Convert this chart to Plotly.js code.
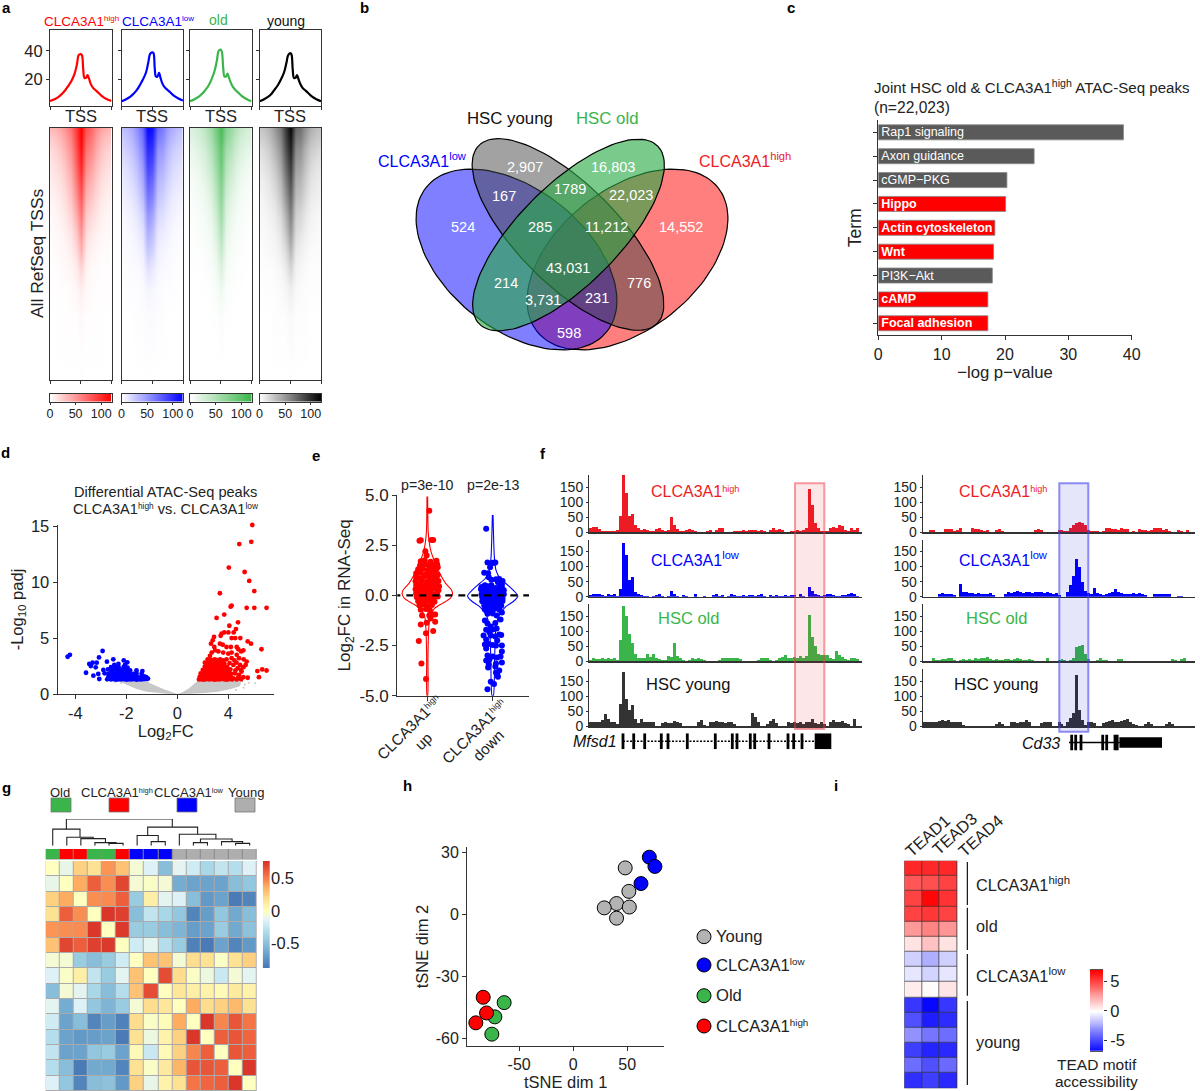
<!DOCTYPE html>
<html><head><meta charset="utf-8">
<script src="https://cdn.plot.ly/plotly-3.0.1.min.js"></script>
<style>html,body{margin:0;padding:0;background:#fff}</style></head>
<body><div id="chart" style="width:1200px;height:1091px"></div>
<script>
/* ---------- panel a ---------- */
const profileX=[-1,-.85,-.7,-.6,-.5,-.4,-.3,-.2,-.12,-.07,0,.04,.08,.12,.17,.22,.27,.32,.4,.5,.6,.7,.85,1];
const profileHigh=[4.7,6,8,10,12.5,15.5,19,24,31,37,37.8,37,27,21,21,23,20.5,17,14,12,10,8,6,4.7];
const profileLow=[4.5,6,8,10,12.5,16,20,25,33,38,39,38.5,28,22,22,24.5,21,17.5,14.5,12.5,10.5,8.5,6.5,5];
const profileOld=[4.5,6,8,10,12.5,15.5,20,26,34,40,41,39,28,22,22,24,21,18,14.5,12,10,8,6,4.5];
const profileYoung=[4.5,6,8,10,13,16,20,25,32,37,38.5,37.5,27,21,21,23,20,17,14,12,10,8,6,4.5];
const heatCols=[-1,-.833,-.667,-.5,-.333,-.167,0,.167,.333,.5,.667,.833,1];
const heatRows=[0,.04,.09,.15,.21,.28,.35,.42,.49,.56,.64,.75,1];
const heatHigh=[
[32,36,42,52,68,92,120,82,72,56,44,38,32],[24,28,34,44,60,88,118,74,66,48,36,30,26],[16,20,26,36,52,80,112,64,56,40,28,22,18],
[12,15,20,28,44,72,104,54,46,32,22,17,13],[8,11,15,22,36,62,92,44,36,25,16,12,9],[5,7,10,16,28,50,78,34,27,18,11,8,6],
[3,4,7,11,20,38,64,24,18,12,7,5,4],[2,3,4,7,13,26,50,16,11,7,4,3,2],[1,2,3,4,8,16,36,10,6,4,2,2,1],
[1,1,2,3,5,9,20,6,3,2,1,1,1],[1,1,1,1,2,4,8,3,2,1,1,1,1],[0,0,1,1,1,1,3,1,1,1,1,0,0],[0,0,0,0,0,0,0,0,0,0,0,0,0]];
const heatLow=[
[30,34,40,52,72,118,112,70,62,46,38,32,28],[24,28,34,46,66,110,104,62,56,40,32,26,24],[18,22,28,38,58,100,94,50,46,32,24,20,18],
[13,16,22,30,48,90,82,42,38,26,18,15,13],[9,12,16,24,40,78,70,34,30,20,14,11,9],[6,8,11,17,30,64,56,26,22,14,9,7,6],
[3,5,7,11,20,50,42,18,15,9,6,4,3],[2,3,4,7,13,38,30,11,9,6,3,2,2],[1,2,3,4,8,26,20,7,5,3,2,1,1],
[1,1,2,2,4,14,10,4,3,2,1,1,1],[0,1,1,1,2,5,4,2,1,1,1,0,0],[0,0,0,1,1,2,2,1,1,0,0,0,0],[0,0,0,0,0,0,0,0,0,0,0,0,0]];
const heatOld=[
[22,26,32,42,60,84,110,74,62,46,34,28,24],[18,22,27,36,54,78,104,66,54,38,28,23,19],[12,15,20,28,44,68,94,54,44,30,20,16,13],
[8,11,15,22,36,60,88,44,34,22,14,10,8],[5,7,10,16,28,50,78,36,26,16,9,7,5],[3,5,7,11,20,40,68,26,18,11,6,4,3],
[2,3,5,7,14,30,58,20,12,7,4,3,2],[1,2,3,5,9,22,46,14,8,5,3,2,1],[1,1,2,3,6,14,34,9,5,3,2,1,1],
[0,1,1,2,4,9,22,6,3,2,1,1,0],[0,0,1,1,2,4,10,3,2,1,1,0,0],[0,0,0,0,1,1,3,1,1,0,0,0,0],[0,0,0,0,0,0,0,0,0,0,0,0,0]];
const heatYoung=[
[26,30,36,48,64,92,118,72,66,50,38,32,28],[21,25,31,42,58,88,112,64,60,44,32,27,23],[14,18,24,34,50,80,104,54,50,34,24,20,16],
[10,13,18,26,42,70,94,46,42,28,18,14,11],[7,9,13,20,34,60,84,38,34,22,13,10,8],[4,6,9,14,26,48,72,30,26,16,9,7,5],
[3,4,6,9,18,36,60,22,18,11,6,4,3],[2,3,4,6,12,26,48,16,12,7,4,3,2],[1,2,3,4,8,16,34,10,7,4,2,2,1],
[1,1,1,2,4,9,20,6,4,2,1,1,1],[0,1,1,1,2,4,8,3,2,1,1,1,0],[0,0,0,1,1,1,3,1,1,1,0,0,0],[0,0,0,0,0,0,0,0,0,0,0,0,0]];
const scaleSteps=[0,10,20,30,40,50,60,70,80,90,100,110,120];
/* ---------- panel b ---------- */
const vennRegions=["2,907","16,803","167","1789","22,023","524","285","11,212","14,552","43,031","214","776","3,731","231","598"];
/* ---------- panel c ---------- */
const terms=["Rap1 signaling","Axon guidance","cGMP−PKG","Hippo","Actin cytoskeleton","Wnt","PI3K−Akt","cAMP","Focal adhesion"];
const termP=[38.7,24.6,20.3,20.1,18.4,18.2,18.0,17.3,17.3];
const termHit=[0,0,0,1,1,1,0,1,1];
/* ---------- panel d ---------- */
const grayL=[[0,0],[-.25,.18],[-.5,.4],[-.8,.7],[-1.1,1.0],[-1.2,1.28],[-2.35,1.28],[-2.25,1.1],[-1.95,.8],[-1.6,.45],[-1.2,.2],[-.8,.08],[-.4,.02]];
const grayR=[[0,0],[.2,.15],[.45,.5],[.7,1.0],[.85,1.28],[2.35,1.28],[2.5,1.0],[2.45,.7],[2.1,.45],[1.6,.2],[1.1,.08],[.5,.02]];
const grayDots=[[-2.45,1.05],[-2.2,.95],[-1.9,1.15],[-1.4,.75],[-1.1,.5],[-.75,.3],[-.55,.15],[.3,.1],[.55,.22],[1.0,.3],[1.5,.6],[2.0,.9],[2.55,1.15],[2.65,.85],[2.8,1.0],[2.6,.55],[2.3,.35],[3.05,.95]];
const redPts=[[2.94,15.1],[2.9,13.6],[2.43,13.4],[2.02,11.3],[2.64,10.9],[2.82,10.1],[3.02,9.2],[1.67,9.0],[3.5,7.7],[3.02,7.7],[2.72,7.7],[2.13,7.9],[2.09,7.8],[1.84,7.1],[1.54,6.8],[2.38,6.4],[2.04,6.1],[2.3,5.8],
[2.21,5.5],[1.44,5.1],[1.39,4.8],[1.32,4.5],[1.74,5.4],[1.7,5.2],[1.84,5.5],[2.0,5.5],[2.13,5],[2.27,5],[2.47,5],[1.67,4.5],[1.78,4.4],[1.93,4.2],[2.1,4.2],[2.33,4.2],[2.39,4],[2.59,3.9],[2.76,4.7],[2.89,4.5],[1.45,4.2],[1.48,3.9],[1.35,3.7],[1.28,3.4],[1.19,3.1],[1.08,2.8],[1.61,3.8],[1.8,3.7],[2.0,3.6],[2.13,3.7],[2.33,3.5],[2.5,3.8],[2.42,3.2],[2.72,2.9],[2.68,2.6],[2.59,2.4],[2.46,2.6],[2.37,2.3],[2.52,2],[2.42,1.7],[2.26,1.85],[2.2,2.6],[2.24,3],[2.13,3.2],[1.93,3.1],[2.59,1.5],[2.76,1.45],[2.39,1.5],[2.2,1.4],[3.3,4.0],[3.14,2.05],[3.33,2.2],[3.5,2.1],[3.2,1.5],
[.85,1.3],[.95,1.32],[1.05,1.28],[1.15,1.33],[1.25,1.3],[1.35,1.34],[1.45,1.28],[1.55,1.32],[1.65,1.3],[1.75,1.35],[1.85,1.3],[1.95,1.28],[2.05,1.34],[2.15,1.3],[2.33,1.3],[2.5,1.32],
[.88,1.55],[1.0,1.6],[1.12,1.52],[1.22,1.58],[1.33,1.62],[1.44,1.5],[1.52,1.6],[1.63,1.56],[1.74,1.52],[1.83,1.62],[1.94,1.55],[2.04,1.6],
[.92,1.85],[1.05,1.8],[1.16,1.9],[1.27,1.84],[1.38,1.8],[1.47,1.92],[1.58,1.86],[1.69,1.82],[1.78,1.92],[1.9,1.84],[2.0,1.9],[2.12,1.8],
[1.0,2.15],[1.1,2.2],[1.22,2.1],[1.33,2.2],[1.42,2.12],[1.55,2.22],[1.64,2.14],[1.76,2.1],[1.85,2.22],[1.98,2.15],[2.08,2.2],
[1.08,2.45],[1.2,2.5],[1.3,2.42],[1.41,2.52],[1.52,2.44],[1.62,2.52],[1.72,2.42],[1.83,2.5],[1.95,2.45],
[1.18,2.75],[1.3,2.8],[1.4,2.72],[1.5,2.8],[1.61,2.72],[1.71,2.82],[1.84,2.74],[1.33,3.05],[1.47,3.1],[1.58,3.02],[1.68,3.1],[1.8,3.0],[2.05,2.75],[2.32,2.8],[2.6,3.1],[2.5,2.15],[2.28,2.1],
[.98,1.42],[1.1,1.42],[1.28,1.44],[1.4,1.42],[1.58,1.44],[1.7,1.42],[1.9,1.44],[2.1,1.45],[.98,1.72],[1.1,1.7],[1.33,1.72],[1.5,1.72],[1.68,1.7],[1.88,1.72],[1.1,2.0],[1.25,1.98],[1.42,2.0],[1.6,2.0],[1.82,2.0],[2.02,2.02],[1.16,2.3],[1.36,2.32],[1.5,2.32],[1.7,2.3],[1.9,2.3],[1.25,2.62],[1.45,2.62],[1.66,2.62],[1.8,2.62]];
const bluePts=[[-4.3,3.33],[-4.21,3.5],[-2.93,3.84],[-3.07,3.27],[-3.45,2.68],[-3.32,2.8],[-3.16,2.8],[-3.39,2.5],[-3.2,2.38],[-3.58,1.9],[-3.29,1.64],[-3.1,1.79],[-3.06,1.34],[-2.75,1.31],[-2.76,2.89],[-2.51,3.1],[-2.1,3],[-1.96,2.83],[-2.47,2.6],[-2.31,2.68],[-2.05,2.6],[-1.37,2.05],[-1.6,2.1],
[-2.6,1.3],[-2.5,1.33],[-2.4,1.28],[-2.3,1.32],[-2.2,1.3],[-2.1,1.34],[-2,1.28],[-1.9,1.32],[-1.8,1.3],[-1.7,1.33],[-1.6,1.28],[-1.5,1.32],[-1.4,1.3],[-1.3,1.33],[-1.2,1.35],[-1.15,1.38],
[-2.7,1.55],[-2.58,1.6],[-2.46,1.52],[-2.35,1.58],[-2.22,1.6],[-2.12,1.52],[-2,1.58],[-1.9,1.6],[-1.78,1.52],[-1.65,1.56],[-1.55,1.5],[-1.4,1.55],[-1.3,1.58],[-1.22,1.5],
[-2.85,1.85],[-2.7,1.8],[-2.6,1.9],[-2.48,1.84],[-2.36,1.8],[-2.25,1.9],[-2.12,1.84],[-2,1.82],[-1.88,1.9],[-1.72,1.8],[-1.6,1.84],[-1.4,1.8],
[-2.9,2.15],[-2.72,2.2],[-2.55,2.1],[-2.42,2.22],[-2.3,2.12],[-2.15,2.2],[-2,2.12],[-1.85,2.1],[-2.6,2.4],[-2.45,2.45],[-2.3,2.38],[-2.1,2.42],[-1.95,2.35],
[-2.5,1.7],[-2.3,1.7],[-2.05,1.7],[-1.85,1.68],[-1.68,1.66],[-2.52,2.0],[-2.33,2.0],[-2.18,2.02],[-1.95,1.98],[-2.4,1.45],[-2.15,1.44],[-1.95,1.44],[-1.7,1.44]];
/* ---------- panel e ---------- */
const violinUpY=[4.92,3.1,2.27,1.69,1.1,.6,.27,.07,-.15,-.4,-.65,-1.06,-1.73,-3.06,-5];
const violinUpW=[.005,.015,.05,.11,.19,.28,.37,.385,.35,.23,.11,.04,.02,.01,.005];
const violinDownY=[4,1.93,1.26,.85,.51,.27,-.03,-.32,-.56,-.98,-1.56,-3.06,-5];
const violinDownW=[.005,.025,.05,.11,.23,.31,.385,.31,.2,.1,.05,.03,.01];
const upPts=[[.03,4.22],[-.12,2.72],[-.1,2.75],[.06,2.76],[.09,2.76],[-.03,2.2],[-.01,1.98],[-.13,-2.28],[-.09,-3.39],[-.02,-4.17],[-.1,-1.45],[-.01,-1.36],[.12,-1.31],[.09,-1.78],[-.02,-1.89],[.03,-1.0],[.09,-.95],[.05,-1.15],[-.08,-1.0],[.12,-.95],
[-.1,1.7],[-.04,1.75],[.05,1.68],[.14,1.72],[.15,1.55],[-.11,1.5],[-.03,1.55],[.03,1.45],[.1,1.52],[.16,1.4],[-.14,1.3],[-.07,1.33],[0,1.25],[.07,1.3],[.13,1.28],[-.17,1.1],[-.1,1.12],[-.02,1.05],[.04,1.14],[.12,1.08],[.16,1.02],
[-.17,.9],[-.12,.85],[-.05,.94],[.03,.88],[.09,.92],[.14,.86],[-.18,.7],[-.09,.72],[-.02,.66],[.05,.74],[.11,.68],[.17,.72],[-.17,.5],[-.11,.55],[-.04,.46],[.02,.52],[.08,.48],[.14,.54],[.18,.45],
[-.18,.3],[-.12,.34],[-.06,.26],[0,.32],[.06,.28],[.12,.35],[.17,.25],[-.17,.1],[-.1,.14],[-.04,.05],[.03,.12],[.09,.06],[.15,.13],[-.16,-.1],[-.09,-.05],[-.03,-.14],[.04,-.08],[.1,-.12],[.16,-.06],
[-.14,-.3],[-.08,-.25],[-.02,-.34],[.05,-.28],[.11,-.32],[-.12,-.5],[-.05,-.46],[.01,-.55],[.07,-.48],[-.1,-.72],[-.02,-.68],[.04,-.75]];
const downPts=[[-.1,3.32],[-.08,1.64],[.04,1.64],[-.04,1.4],[-.13,1.13],[-.07,1.1],[.0,1.62],[.02,1.62],
[.05,.8],[.1,.82],[.15,.72],[.08,.65],[.14,.55],[-.06,.9],[-.02,.78],[-.12,.5],[-.17,.42],[-.08,.45],[-.02,.5],[.14,.4],[.17,.25],
[-.18,.3],[-.12,.25],[-.07,.18],[-.02,.26],[.03,.2],[.08,.26],[.13,.18],[-.17,.05],[-.11,.1],[-.05,.02],[.01,.08],[.07,.02],[.12,.1],[.17,.05],[-.16,-.1],[-.1,-.14],[-.04,-.07],[.03,-.12],[.09,-.06],[.15,-.14],
[-.16,-.3],[-.1,-.26],[-.03,-.33],[.03,-.27],[.1,-.34],[.15,-.28],[-.13,-.5],[-.07,-.46],[0,-.54],[.06,-.48],[.13,-.52],[-.12,-.7],[-.05,-.74],[.02,-.68],[.1,-.72],[.14,-.85],[-.08,-.92],[.0,-.9],[.06,-1.0],
[-.14,-.2],[-.08,-.2],[.0,-.2],[.07,-.2],[.12,-.22],[-.14,.0],[-.08,.0],[-.01,-.02],[.05,.0],[.11,-.02],[-.14,.15],[-.09,.33],[.0,.35],[.05,.36],[.1,.38],[-.1,-.4],[-.03,-.43],[.05,-.4],[.11,-.42],[-.1,-.6],[-.02,-.62],[.06,-.6],
[-.12,-1.25],[-.08,-1.4],[-.03,-1.55],[.04,-1.38],[.12,-1.2],[-.1,-1.72],[-.05,-1.84],[.0,-1.7],[.06,-1.65],[-.14,-2.0],[-.1,-2.2],[-.03,-2.0],[.04,-2.05],[.1,-1.95],[.13,-1.98],[.07,-2.25],[-.06,-2.42],[.0,-2.48],
[-.12,-2.45],[-.1,-2.65],[.05,-2.5],[.14,-2.5],[.14,-2.8],[.12,-3.05],[-.08,-3.0],[-.05,-3.2],[-.1,-3.25],[-.06,-3.45],[.0,-3.05],[.07,-3.1],[.05,-3.4],[-.07,-3.6],[.04,-3.55],[.14,-3.35],[.1,-3.75],[.05,-3.85],[.08,-4.05],[-.03,-4.3],[.02,-4.42],[-.08,-4.68],[.07,-3.95]];
/* ---------- panel f ---------- */
const trackLHigh=[12,18,18,10,5,5,5,5,5,8,55,190,130,55,60,25,12,8,10,8,5,3,10,12,8,3,8,50,25,10,5,5,8,10,8,5,0,0,0,5,8,0,8,15,12,0,0,0,3,5,5,8,5,8,8,8,5,8,3,0,8,12,8,10,8,0,0,3,3,8,5,8,15,145,90,30,12,3,5,5,12,18,15,22,20,8,3,12,8,12];
const trackLLow=[5,8,10,10,5,3,8,5,8,3,25,180,140,55,65,15,8,5,3,3,0,3,5,8,3,0,3,18,8,3,0,5,3,0,0,8,0,0,3,0,0,5,8,3,5,0,3,8,5,3,3,5,3,5,5,3,5,8,3,0,5,3,5,3,3,5,3,5,5,0,8,3,0,32,18,10,5,3,5,8,8,5,3,3,5,5,10,12,8,3];
const trackLOld=[5,10,8,8,10,8,10,8,10,5,70,185,150,90,60,25,10,12,10,25,15,25,10,8,5,3,18,15,62,18,12,3,0,5,10,8,10,8,3,0,0,0,0,3,12,10,12,10,12,10,8,0,0,0,0,0,3,10,12,10,3,0,5,10,15,20,12,10,15,12,18,10,18,155,80,50,25,20,22,20,12,8,35,22,15,8,5,12,12,8];
const trackLYoung=[12,12,15,15,20,40,25,15,15,8,75,180,90,55,70,25,10,22,15,15,12,12,0,0,10,15,10,10,18,15,10,0,0,0,0,0,15,20,5,0,12,15,18,12,15,10,12,15,8,0,0,0,0,0,45,30,15,0,0,8,18,22,10,0,0,0,12,10,15,10,15,8,12,15,22,10,8,12,8,0,12,20,15,12,18,10,8,0,22,0];
const trackRHigh=[0,0,8,8,0,0,0,10,10,10,5,8,12,0,0,0,12,10,10,8,5,8,0,0,8,10,5,0,0,0,0,0,0,0,0,0,0,8,10,8,0,0,0,0,0,8,8,5,5,12,22,30,33,30,22,8,5,5,5,0,3,15,12,10,10,8,12,10,10,0,3,0,10,8,8,5,8,15,12,12,8,10,5,0,0,8,5,0,8,0];
const trackRLow=[0,0,0,0,0,8,12,10,8,10,5,0,42,15,15,12,12,8,12,10,10,10,12,5,0,0,0,10,15,12,15,20,15,12,15,15,12,15,15,15,12,15,12,10,12,5,0,0,15,38,70,125,100,50,20,12,10,28,12,10,5,10,12,15,25,15,12,10,10,10,12,10,12,8,5,0,0,8,10,10,8,8,8,0,0,3,3,0,0,0];
const trackROld=[0,0,0,12,5,3,8,8,10,12,3,0,5,8,3,8,3,10,8,10,12,15,8,3,8,5,3,8,8,3,8,10,8,3,5,8,5,0,0,0,0,10,0,0,0,5,8,5,0,3,12,48,50,55,25,8,0,0,5,10,5,3,0,0,0,8,8,0,0,0,0,0,0,0,0,0,0,0,0,0,0,0,0,8,5,0,8,10,0,0];
const trackRYoung=[12,14,12,12,15,18,20,18,20,12,15,12,12,5,0,0,0,0,0,0,0,0,0,0,8,14,8,0,0,12,15,10,12,15,20,12,0,0,0,10,12,15,12,0,0,12,8,0,12,28,45,170,55,20,5,12,15,10,0,0,10,15,18,20,14,12,18,20,22,15,8,5,0,0,8,14,8,0,0,0,0,8,14,8,0,0,0,0,0,0];
const geneMfsd1Exons=[34,44.7,55.7,72.3,79,98.3,126.3,143.3,148,161.3,165.7,180,199,204.7,213];
const geneMfsd1Span=[34,226];
const geneMfsd1Block=[225.7,242.3];
const geneCd33Exons=[149,153,158.3,180,184,192.3,194.5];
const geneCd33Span=[146.3,197];
const geneCd33Block=[196.7,239.3];
/* ---------- panel g ---------- */
const corrMatrix=[
[0,-.1,.25,.18,.45,.3,-.05,-.15,-.5,-.12,-.2,-.35,-.25,-.3,-.15],
[-.1,0,.38,.62,.47,.7,-.05,-.02,-.05,-.6,-.65,-.65,-.65,-.5,-.45],
[.25,.38,0,.47,.48,.62,-.42,.1,-.12,-.15,-.5,-.7,-.65,-.85,-.8],
[.18,.62,.47,0,.75,.72,-.5,-.25,-.35,-.45,-.8,-.68,-.45,-.62,-.5],
[.45,.47,.48,.75,0,.74,-.42,-.42,-.5,-.55,-.68,-.65,-.42,-.62,-.48],
[.3,.7,.62,.72,.74,0,-.2,-.12,-.3,-.42,-.82,-.85,-.65,-.8,-.7],
[-.05,-.05,-.42,-.5,-.42,-.2,0,.3,.3,-.05,.2,.18,-.02,.18,.25],
[-.15,-.02,.1,-.25,-.42,-.12,.3,0,.68,.2,-.02,-.08,-.22,-.05,-.12],
[-.5,-.05,-.12,-.35,-.5,-.3,.3,.68,0,.15,.1,.08,.03,.13,.08],
[-.12,-.6,-.15,-.45,-.55,-.42,-.05,.2,.15,0,.38,.2,.25,.33,.18],
[-.2,-.65,-.5,-.8,-.68,-.82,.2,-.02,.02,.38,0,.75,.5,.65,.55],
[-.3,-.65,-.7,-.68,-.65,-.85,.18,-.08,.08,.25,.75,0,.62,.65,.6],
[-.25,-.65,-.65,-.45,-.42,-.65,.03,-.22,.03,.25,.5,.62,0,.65,.62],
[-.3,-.5,-.85,-.62,-.62,-.8,.18,-.02,.13,.35,.65,.65,.62,0,.75],
[-.15,-.45,-.8,-.5,-.48,-.7,.25,-.1,.08,.18,.55,.6,.62,.75,0]];
const sampleGroups=[1,2,2,1,1,2,3,3,3,4,4,4,4,4,4];
const dendroX=[4,4,5,5,null,3,3,4.5,4.5,null,2,2,3.75,3.75,null,1,1,2.875,2.875,null,0,0,1.94,1.94,null,7,7,8,8,null,6,6,7.5,7.5,null,10,10,11,11,null,13,13,14,14,null,12,12,13.5,13.5,null,10.5,10.5,12.75,12.75,null,9,9,11.6,11.6,null,6.75,6.75,10.3,10.3,null,.97,.97,8.5,8.5];
const dendroH=[0,7,7,0,null,0,9,9,7,null,0,21,21,9,null,0,25,25,21,null,0,49,49,25,null,0,12,12,0,null,0,30,30,12,null,0,9,9,0,null,0,7,7,0,null,0,12,12,7,null,9,20,20,12,null,0,34,34,20,null,30,55,55,34,null,49,79,79,55];
const corrScale=[.77,.65,.5,.35,.2,.1,0,-.1,-.25,-.4,-.55,-.7,-.88];
/* ---------- panel h ---------- */
const youngX=[48.1,51.5,40.1,51.9,28.7,40.1],youngY=[22.7,11.3,5.4,3.7,3.3,-1.7];
const lowX=[70.4,75.6,62.7],lowY=[27.9,23.4,15.1];
const oldX=[-63.9,-72.5,-75.3],oldY=[-42.7,-49.6,-58];
const highX=[-83.3,-80.2,-90.1],highY=[-40.1,-47.7,-52.5];
const tsneLegend=["Young","CLCA3A1<span style='font-size:14px'><sup>low</sup></span>","Old","CLCA3A1<span style='font-size:14px'><sup>high</sup></span>"];
/* ---------- panel i ---------- */
const teadNames=["TEAD1","TEAD3","TEAD4"];
const teadMatrix=[[5.9,5.9,5.9],[4.6,4.8,5.2],[5.2,6.8,5.6],[5.2,5.5,5.2],[2.8,3.4,2.9],[.8,1.7,.8],[-1.3,-2.2,-1.3],[-.7,-1.2,-.7],[.5,.1,.7],[-5.5,-6.8,-5.5],[-4.8,-6.2,-5.8],[-3,-3.8,-4],[-5.3,-6,-5.9],[-4,-4.8,-4.1],[-5.7,-5.3,-5.9]];
const teadScale=[7,6,5,4,3,2,1,0,-1,-2,-3,-4,-5,-6,-6.8];

/* ---------- helpers ---------- */
const W=1200,H=1091,FONT='"Liberation Sans",Arial,sans-serif',INK='#222',AX='#333';
const RED='#ff0000',BLUE='#0000ff',GREEN='#39b54a',TRACKRED='#ed1c24';
const traces=[],anns=[],shapes=[];
const layout={width:W,height:H,margin:{l:0,r:0,t:0,b:0,pad:0},paper_bgcolor:'#fff',plot_bgcolor:'rgba(0,0,0,0)',showlegend:false,font:{family:FONT,color:INK},annotations:anns,shapes:shapes,hovermode:false};
let n=0;
const hidden={visible:true,showline:false,ticks:'',showticklabels:false,showgrid:false,zeroline:false,fixedrange:true};
const line={showline:true,linecolor:AX,linewidth:1.2,ticks:'outside',ticklen:4,tickcolor:AX,tickwidth:1,showticklabels:true,tickfont:{size:16,color:INK},showgrid:false,zeroline:false,fixedrange:true};
function axes(x0,x1,y0,y1,xo,yo){n++;const s=n===1?'':String(n);
 layout['xaxis'+s]=Object.assign({},hidden,{domain:[x0/W,x1/W],anchor:'y'+s},xo);
 layout['yaxis'+s]=Object.assign({},hidden,{domain:[1-y1/H,1-y0/H],anchor:'x'+s},yo);
 return {xaxis:'x'+s,yaxis:'y'+s};}
function T(text,x,y,o={}){const px=o.anchor==='left'?x-2:x;anns.push({text,xref:'paper',yref:'paper',x:px/W,y:1-y/H,showarrow:false,xanchor:o.anchor||'center',yanchor:'middle',textangle:o.angle||0,align:o.align||'center',font:{size:o.size||15,color:o.color||INK,family:FONT}});}
function R(x0,y0,x1,y1,o){shapes.push(Object.assign({type:'rect',xref:'paper',yref:'paper',x0:x0/W,x1:x1/W,y0:1-y0/H,y1:1-y1/H,layer:'below',line:{width:0}},o));}
const sup=(t,s)=>`<span style="font-size:${s}px"><sup>${t}</sup></span>`;
const xs=a=>a.map(p=>p[0]),ys=a=>a.map(p=>p[1]);

/* panel letters */
[['a',6,8],['b',364,8],['c',791,8],['d',5,452],['e',316,455],['f',543,454],['g',6,787],['h',407,785],['i',836,785]].forEach(l=>T('<b>'+l[0]+'</b>',l[1],l[2],{size:15,color:'#000'}));

/* overlay axis for the Venn outlines and legend swatches */
const pix=axes(0,W,0,H,{range:[0,W]},{range:[H,0]});
const ellipse=(cx,cy,a,b,deg)=>{const X=[],Y=[],t=deg*Math.PI/180;for(let i=0;i<=120;i++){const u=i/120*2*Math.PI,p=a*Math.cos(u),q=b*Math.sin(u);X.push(cx+p*Math.cos(t)-q*Math.sin(t));Y.push(cy+p*Math.sin(t)+q*Math.cos(t));}return [X,Y];};
[[627.5,259.5,115.6,70,-38.5,'rgba(255,0,0,.5)'],[516.5,259.5,115.6,70,38.5,'rgba(0,0,255,.5)'],[568,234.5,126,50,45,'rgba(70,70,70,.5)'],[568.5,235,126,50,-45,'rgba(40,170,70,.62)']].forEach(e=>{
 const [X,Y]=ellipse(e[0],e[1],e[2],e[3],e[4]);
 traces.push(Object.assign({type:'scatter',mode:'lines',x:X,y:Y,fill:'toself',fillcolor:e[5],line:{color:'#000',width:1.2},hoverinfo:'skip'},pix));});
const vennAt=[[525,167],[613,167],[504,196],[570,189],[631,195],[463,227],[540,227],[606,227],[681,227],[568,268],[506,283],[639,283],[543,300],[597,298],[569,333]];
vennRegions.forEach((t,i)=>T(t,vennAt[i][0],vennAt[i][1],{size:14.5,color:'#fff'}));
T('HSC young',510,118,{size:16.8,color:'#111'});
T('HSC old',607,118,{size:16.8,color:GREEN});
T('CLCA3A1<sup>low</sup>',378,160,{size:16,color:BLUE,anchor:'left'});
T('CLCA3A1<sup>high</sup>',699,160,{size:16,color:TRACKRED,anchor:'left'});

/* panel a */
const aCols=[[50,111.5,RED,profileHigh,heatHigh],[121.5,183,BLUE,profileLow,heatLow],[190,251.5,GREEN,profileOld,heatOld],[259.5,321,'#000000',profileYoung,heatYoung]];
aCols.forEach((c,i)=>{
 const box={showline:true,linecolor:AX,linewidth:1,mirror:true,ticks:'outside',ticklen:3,tickcolor:AX,fixedrange:true,showgrid:false,zeroline:false};
 const a1=axes(c[0],c[1],29.7,105.7,Object.assign({},box,{range:[-1,1],tickvals:[-1,0,1],showticklabels:false}),
   Object.assign({},box,{range:[1.4,55],tickvals:[20,40],showticklabels:i===0,tickfont:{size:16.5,color:INK}}));
 traces.push(Object.assign({type:'scatter',mode:'lines',x:profileX,y:c[3],line:{color:c[2],width:2.2,shape:'spline'},cliponaxis:true},a1));
 T('TSS',(c[0]+c[1])/2,116,{size:16.5});
 const a2=axes(c[0],c[1],127.5,380,Object.assign({},box,{range:[-1,1],tickvals:[-1,0,1],showticklabels:false}),Object.assign({},box,{range:[1,0],ticks:'',showticklabels:false}));
 const scale=[[0,'#ffffff'],[1,c[2]]];
 traces.push(Object.assign({type:'heatmap',x:heatCols,y:heatRows,z:c[4],zmin:0,zmax:120,colorscale:scale,showscale:false,zsmooth:'best'},a2));
 const a3=axes(c[0],c[1],393.5,402,Object.assign({},box,{range:[0,120],tickvals:[0,50,100],showticklabels:true,tickfont:{size:12.5,color:INK},ticklen:2,ticklabelstandoff:-2}),Object.assign({},box,{ticks:'',showticklabels:false,range:[0,1]}));
 traces.push(Object.assign({type:'heatmap',x:scaleSteps,y:[0,1],z:[scaleSteps,scaleSteps],zmin:0,zmax:120,colorscale:scale,showscale:false,zsmooth:'best'},a3));
});
T('CLCA3A1'+sup('high',11.4),44,21,{size:13.5,color:RED,anchor:'left'});
T('CLCA3A1'+sup('low',11.4),122,21,{size:13.5,color:BLUE,anchor:'left'});
T('old',218,20,{size:14,color:GREEN});
T('young',286,21,{size:14,color:'#111'});
T('All RefSeq TSSs',37,253,{size:17.4,angle:-90});

/* panel c */
const c1=axes(878.3,1131.7,120.4,335.2,Object.assign({},line,{range:[0,40],tickvals:[0,10,20,30,40],title:{text:'−log p−value',font:{size:16.7,color:INK},standoff:2}}),
 Object.assign({},line,{type:'category',categoryorder:'array',categoryarray:terms,autorange:false,range:[8.5,-.5],showticklabels:false,title:{text:'Term',font:{size:17.5,color:INK},standoff:7}}));
traces.push(Object.assign({type:'bar',orientation:'h',x:termP,y:terms,width:.63,marker:{color:termHit.map(h=>h?'#ff0000':'#5a5a5a'),line:{color:'#888',width:.8}},
 text:terms.map((t,i)=>termHit[i]?'<b>'+t+'</b>':t),textposition:'inside',insidetextanchor:'start',textangle:0,constraintext:'none',textfont:{size:12.5,color:'#fff',family:FONT},cliponaxis:false},c1));
T('Joint HSC old &amp; CLCA3A1<sup>high</sup> ATAC-Seq peaks',874,87,{size:15.1,anchor:'left'});
T('(n=22,023)',874,108,{size:15.6,anchor:'left'});

/* panel d */
const d1=axes(57.8,273.6,525,694,Object.assign({},line,{range:[-4.686,3.776],tickvals:[-4,-2,0,2],ticktext:['-4','-2','0','4'],tickfont:{size:16.5,color:INK},title:{text:'Log<sub>2</sub>FC',font:{size:16.5,color:INK},standoff:3}}),
 Object.assign({},line,{range:[0,15.1],tickvals:[0,5,10,15],tickfont:{size:16.5,color:INK},title:{text:'-Log<sub>10</sub> padj',font:{size:16.5,color:INK},standoff:3}}));
[grayL,grayR].forEach(p=>traces.push(Object.assign({type:'scatter',mode:'lines',x:xs(p),y:ys(p),fill:'toself',fillcolor:'#c8c8c8',line:{width:0,color:'#c8c8c8'}},d1)));
traces.push(Object.assign({type:'scatter',mode:'markers',x:xs(grayDots),y:ys(grayDots),marker:{size:2,color:'#c8c8c8'}},d1));
traces.push(Object.assign({type:'scatter',mode:'markers',x:xs(redPts),y:ys(redPts),marker:{size:4.8,color:RED},cliponaxis:false},d1));
traces.push(Object.assign({type:'scatter',mode:'markers',x:xs(bluePts),y:ys(bluePts),marker:{size:4.8,color:BLUE},cliponaxis:false},d1));
T('Differential ATAC-Seq peaks',165.5,492,{size:14.6});
T('CLCA3A1'+sup('high',12)+' vs. CLCA3A1'+sup('low',12),165.5,509,{size:14.6});

/* panel e */
const e1=axes(397.3,529,495,695.7,Object.assign({},line,{range:[-.459,1.555],tickvals:[0,1],showticklabels:false}),
 Object.assign({},line,{range:[-5,5],tickvals:[-5,-2.5,0,2.5,5],ticktext:['-5.0','-2.5','0.0','2.5','5.0'],tickfont:{size:17,color:INK},title:{text:'Log<sub>2</sub>FC in RNA-Seq',font:{size:17,color:INK},standoff:4}}));
[[0,violinUpY,violinUpW,RED],[1,violinDownY,violinDownW,BLUE]].forEach(v=>{
 const X=v[2].map(w=>v[0]-w).concat(v[2].slice().reverse().map(w=>v[0]+w));
 const Y=v[1].concat(v[1].slice().reverse());
 traces.push(Object.assign({type:'scatter',mode:'lines',x:X,y:Y,line:{color:v[3],width:1.1,shape:'spline',smoothing:.6}},e1));});
traces.push(Object.assign({type:'scatter',mode:'markers',x:xs(upPts),y:ys(upPts),marker:{size:6,color:RED}},e1));
traces.push(Object.assign({type:'scatter',mode:'markers',x:xs(downPts).map(v=>v+1),y:ys(downPts),marker:{size:6,color:BLUE}},e1));
traces.push(Object.assign({type:'scatter',mode:'lines',x:[-.52,1.555],y:[0,0],line:{color:'#000',width:2.4,dash:'7px,6px'},cliponaxis:false},e1));
T('p=3e-10',427.4,485,{size:14.2});T('p=2e-13',493,485,{size:14.2});
T('CLCA3A1'+sup('high',12.5)+'<br>up',416,734,{size:15.2,angle:-45});
T('CLCA3A1'+sup('high',12.5)+'<br>down',481,738,{size:15.2,angle:-45});

/* panel f */
const fTick=Object.assign({},line,{range:[0,190],tickvals:[0,50,100,150],ticklen:2,tickfont:{size:14,color:INK},linewidth:1});
const fx=Object.assign({},hidden,{range:[-.5,90.4],showline:true,linecolor:AX,linewidth:1.6});
const rows=[[475,532],[539.5,596.7],[604,661.3],[669,726]];
const trackSets=[[trackLHigh,trackLLow,trackLOld,trackLYoung,589,861.7],[trackRHigh,trackRLow,trackROld,trackRYoung,922.7,1195]];
const trackCols=[TRACKRED,BLUE,GREEN,'#333333'];
trackSets.forEach(s=>{rows.forEach((r,i)=>{
 const a=axes(s[4],s[5],r[0],r[1],fx,fTick);
 traces.push(Object.assign({type:'bar',y:s[i],marker:{color:trackCols[i],line:{width:0}},width:1},a));
});});
layout.bargap=0;
[651,959].forEach(x=>{T('CLCA3A1'+sup('high',13),x,491,{size:16,color:TRACKRED,anchor:'left'});T('CLCA3A1<sup>low</sup>',x,559,{size:16,color:BLUE,anchor:'left'});});
T('HSC old',688,618,{size:16.5,color:GREEN});T('HSC old',996,618,{size:16.5,color:GREEN});
T('HSC young',688,684,{size:16.5,color:'#111'});T('HSC young',996,684,{size:16.5,color:'#111'});
T('<i>Mfsd1</i>',595,741,{size:16,color:'#111'});T('<i>Cd33</i>',1041,743,{size:16,color:'#111'});
R(795,483.3,824.3,729,{layer:'above',fillcolor:'rgba(237,28,36,.11)',line:{color:'rgba(237,60,70,.5)',width:2}});
R(1059.3,483.3,1088.3,731.7,{layer:'above',fillcolor:'rgba(30,30,220,.11)',line:{color:'rgba(70,70,235,.6)',width:2}});
function gene(x0,x1,y0,y1,exons,span,block,bh,dash){
 const a=axes(x0,x1,y0,y1,{range:[0,x1-x0]},{range:[-1,1]});
 traces.push(Object.assign({type:'scatter',mode:'lines',x:span,y:[0,0],line:{color:'#000',width:1.6,dash}},a));
 const X=[],Y=[];exons.forEach(e=>{X.push(e,e,null);Y.push(-1,1,null);});
 traces.push(Object.assign({type:'scatter',mode:'lines',x:X,y:Y,line:{color:'#000',width:2.8}},a));
 traces.push(Object.assign({type:'scatter',mode:'lines',x:[block[0],block[1],block[1],block[0],block[0]],y:[-bh,-bh,bh,bh,-bh],fill:'toself',fillcolor:'#000',line:{width:0,color:'#000'}},a));
}
gene(589,861.7,733.3,749.3,geneMfsd1Exons,geneMfsd1Span,geneMfsd1Block,1,'2px,1.5px');
gene(922.7,1195,734.5,750.5,geneCd33Exons,geneCd33Span,geneCd33Block,.65,'solid');

/* panel g */
const rdyl=[[0,'#4575b4'],[.17,'#74add1'],[.33,'#abd9e9'],[.45,'#e0f3f8'],[.533,'#ffffbf'],[.65,'#fee090'],[.76,'#fdae61'],[.88,'#f46d43'],[1,'#d73027']];
R(45.7,861,256.7,1091,{fillcolor:'#aaa'});
R(45.7,849,256.7,859.5,{fillcolor:'#888'});
const g1=axes(45.7,256.7,861,1091,{range:[-.5,14.5]},{range:[14.5,-.5]});
traces.push(Object.assign({type:'heatmap',z:corrMatrix,zmin:-.88,zmax:.77,colorscale:rdyl,showscale:false,xgap:1,ygap:1},g1));
const g2=axes(45.7,256.7,849,859.5,{range:[-.5,14.5]},{range:[-.5,.5]});
traces.push(Object.assign({type:'heatmap',z:[sampleGroups],zmin:1,zmax:4,colorscale:[[0,'#39b54a'],[.33,'#39b54a'],[.33,'#ff0000'],[.66,'#ff0000'],[.66,'#0000ff'],[.83,'#0000ff'],[.83,'#aeaeae'],[1,'#aeaeae']],showscale:false,xgap:1,ygap:1},g2));
const g3=axes(45.7,256.7,819,845.7,{range:[-.5,14.5]},{range:[0,79]});
traces.push(Object.assign({type:'scatter',mode:'lines',x:dendroX,y:dendroH,line:{color:'#222',width:1.1},cliponaxis:false},g3));
const g4=axes(262.7,270,861,968,{range:[0,1]},Object.assign({},line,{side:'right',range:[-.88,.77],tickvals:[-.5,0,.5],ticktext:['-0.5','0','0.5'],ticks:'',showline:false,tickfont:{size:16.5,color:INK}}));
traces.push(Object.assign({type:'heatmap',x:[0,1],y:corrScale,z:corrScale.map(v=>[v,v]),zmin:-.88,zmax:.77,colorscale:rdyl,showscale:false,zsmooth:'best'},g4));
[[51,71,'#39b54a','Old',60],[109,129,'#ff0000','CLCA3A1'+sup('high',10.6),117],[177,197,'#0000ff','CLCA3A1'+sup('low',10.6),189],[235,255,'#aeaeae','Young',246]].forEach(l=>{
 R(l[0],798,l[1],812,{fillcolor:l[2],line:{color:'#777',width:.8}});T(l[3],l[4],792,{size:13});});

/* panel h */
const h1=axes(467.3,664,847.3,1045.7,Object.assign({},line,{range:[-98,84],tickvals:[-50,0,50],ticktext:['-50','0','50'],title:{text:'tSNE dim 1',font:{size:16.5,color:INK},standoff:2}}),
 Object.assign({},line,{range:[-63.6,32.7],tickvals:[-60,-30,0,30],ticktext:['-60','-30','0','30'],title:{text:'tSNE dim 2',font:{size:16.5,color:INK},standoff:3}}));
[[youngX,youngY,'#b3b3b3'],[lowX,lowY,BLUE],[oldX,oldY,GREEN],[highX,highY,RED]].forEach(g=>traces.push(Object.assign({type:'scatter',mode:'markers',x:g[0],y:g[1],marker:{size:14,color:g[2],line:{color:'#000',width:1}}},h1)));
const legendY=[936.7,965,995.7,1026];
traces.push(Object.assign({type:'scatter',mode:'markers',x:[704,704,704,704],y:legendY,marker:{size:14,color:['#b3b3b3',BLUE,GREEN,RED],line:{color:'#000',width:1}}},pix));
tsneLegend.forEach((t,i)=>T(t,716,legendY[i],{size:16.6,anchor:'left'}));

/* panel i */
R(904.3,860.7,957.3,1088.3,{fillcolor:'#333'});
const bwr=[[0,'#0000ff'],[.5,'#ffffff'],[1,'#ff0000']];
const i1=axes(904.3,957.3,860.7,1088.3,{range:[-.5,2.5]},{range:[14.5,-.5]});
traces.push(Object.assign({type:'heatmap',z:teadMatrix,zmin:-7,zmax:7,colorscale:bwr,showscale:false,xgap:.7,ygap:.7},i1));
teadNames.forEach((t,i)=>T(t,[927,954,980][i],[836,834,836][i],{size:16.5,angle:-42}));
const i2=axes(1090,1103,970,1050.7,{range:[0,1],showline:true,mirror:true,linecolor:'#555'},Object.assign({},line,{side:'right',range:[-6.8,7],tickvals:[-5,0,5],ticktext:['-5','0','5'],ticklen:3,showline:false,tickfont:{size:16.5,color:INK}}));
traces.push(Object.assign({type:'heatmap',x:[0,1],y:teadScale,z:teadScale.map(v=>[v,v]),zmin:-7,zmax:7,colorscale:bwr,showscale:false,zsmooth:'best'},i2));
const i3=axes(960,975,855,1090,{range:[0,1]},{range:[1090,855]});
const iSeg=[[862,905],[907.7,950],[954,995.7],[1001,1085]],sx=[],sy=[];
iSeg.forEach(s=>{sx.push(.49,.49,null);sy.push(s[0],s[1],null);});
traces.push(Object.assign({type:'scatter',mode:'lines',x:sx,y:sy,line:{color:'#111',width:1.2}},i3));
T('CLCA3A1<sup>high</sup>',976,884,{size:16.3,anchor:'left'});
T('old',976,926,{size:16.3,anchor:'left'});
T('CLCA3A1<sup>low</sup>',976,975,{size:16.3,anchor:'left'});
T('young',976,1042,{size:16.3,anchor:'left'});
T('TEAD motif',1096.7,1064,{size:15.5});T('accessibility',1096.7,1081,{size:15.5});

Plotly.newPlot('chart',traces.map(t=>Object.assign({showlegend:false},t)),layout,{displayModeBar:false,staticPlot:true});
</script></body></html>
